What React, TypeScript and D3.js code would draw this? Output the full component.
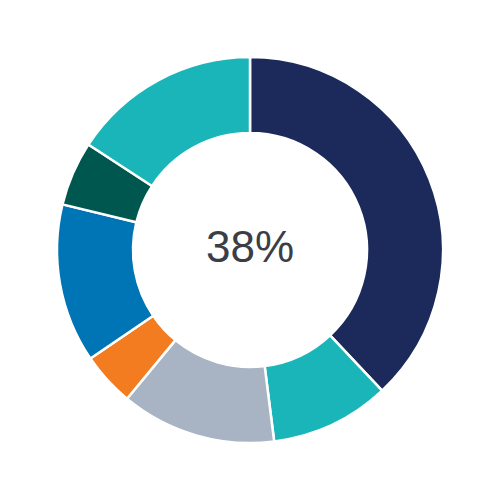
import { useEffect, useRef } from 'react';
import * as d3 from 'd3';

const segments = ['Navy', 'Teal A', 'Gray', 'Orange', 'Blue', 'Dark green', 'Teal B'];
const shares = [38, 10, 13, 4.5, 13.3, 5.4, 15.8];
const colors = ['#1b2a5a', '#1ab5b8', '#a8b3c3', '#f37c21', '#0075b5', '#00574f', '#1ab5b8'];
const centerLabel = '38%';

export default function App() {
  const ref = useRef<SVGSVGElement>(null);

  useEffect(() => {
    const svgElement = ref.current;
    if (!svgElement) {
      return;
    }

    const svg = d3.select(svgElement);
    svg.selectAll('*').remove();

    const width = 500;
    const height = 500;
    const outer = 193;
    const inner = 117;

    const data = segments.map((name, i) => ({ name, value: shares[i], color: colors[i] }));

    const pie = d3
      .pie<{ name: string; value: number; color: string }>()
      .value((d) => d.value)
      .sort(null);

    const arc = d3
      .arc<d3.PieArcDatum<{ name: string; value: number; color: string }>>()
      .innerRadius(inner)
      .outerRadius(outer);

    const g = svg.append('g').attr('transform', `translate(${width / 2},${height / 2})`);

    g.selectAll('path')
      .data(pie(data))
      .join('path')
      .attr('d', arc)
      .attr('fill', (d) => d.data.color)
      .attr('stroke', '#ffffff')
      .attr('stroke-width', 2.5)
      .attr('stroke-linejoin', 'round');

    g.append('text')
      .attr('x', 0)
      .attr('y', 12)
      .attr('text-anchor', 'middle')
      .attr('font-family', '"Liberation Sans", Arial, sans-serif')
      .attr('font-size', 44)
      .attr('fill', '#3a3f47')
      .text(centerLabel);
  }, []);

  return (
    <svg
      ref={ref}
      width={500}
      height={500}
      style={{ position: 'absolute', left: 0, top: 0, background: '#ffffff' }}
    />
  );
}
